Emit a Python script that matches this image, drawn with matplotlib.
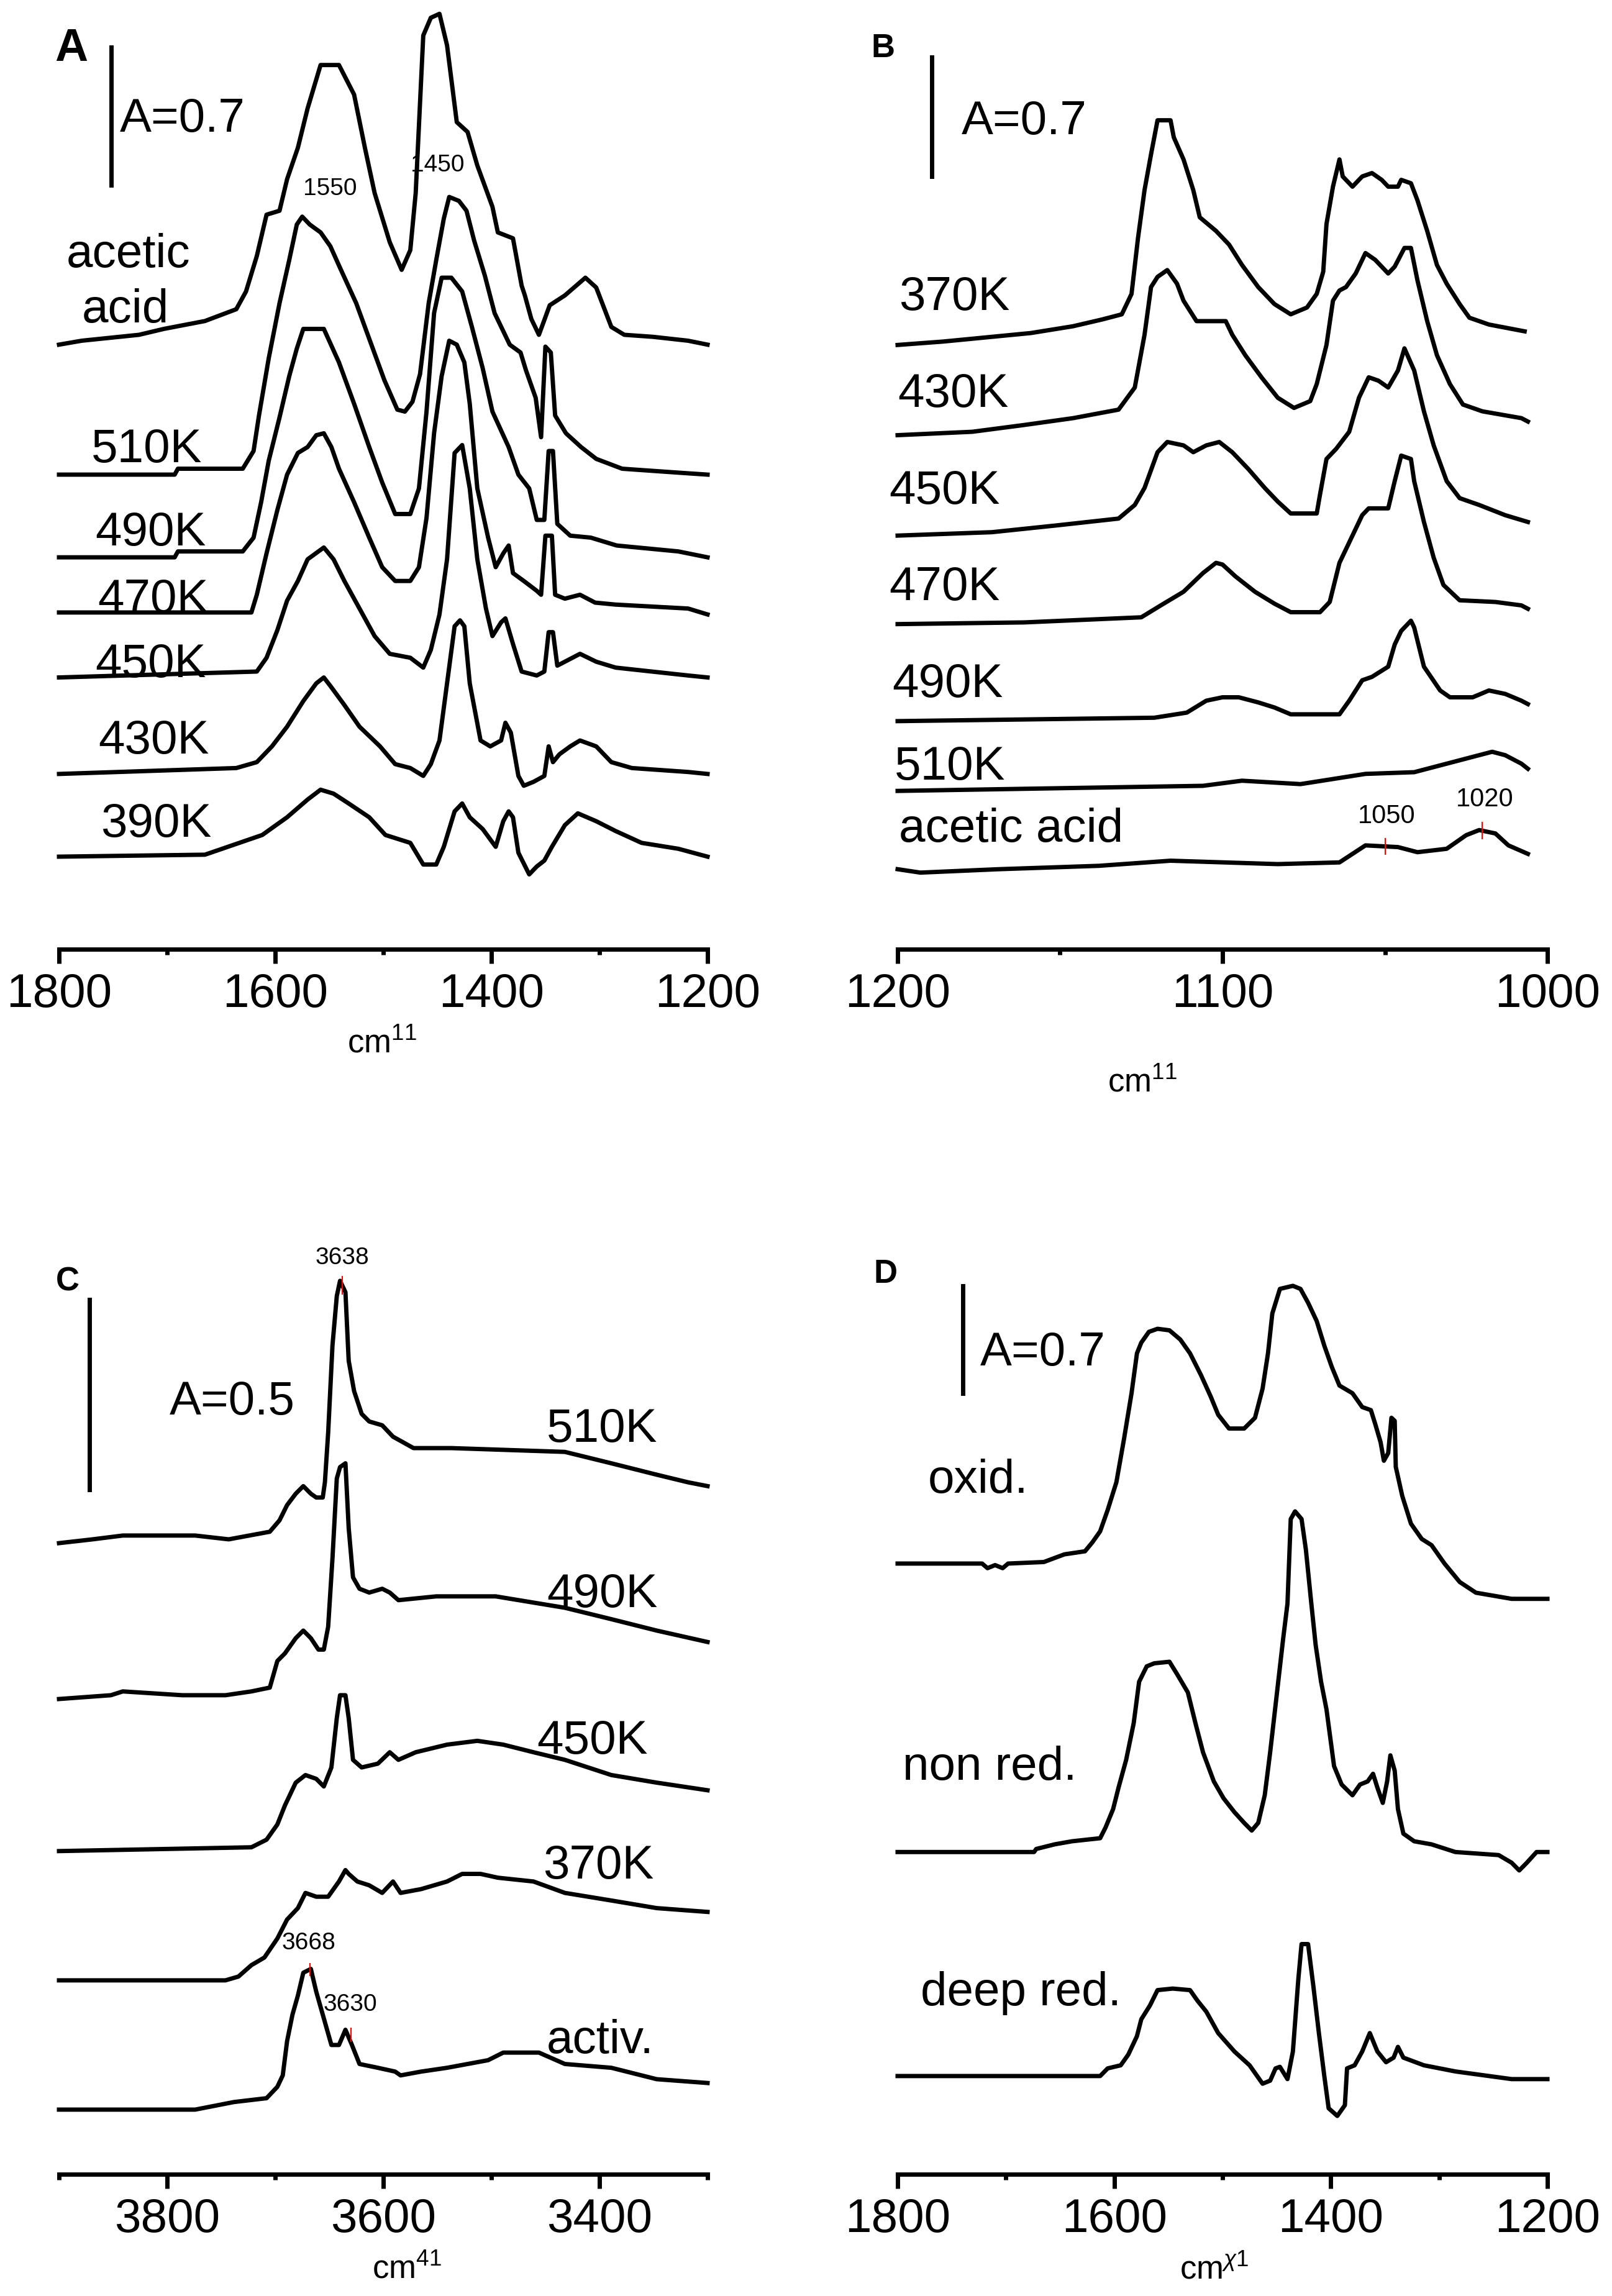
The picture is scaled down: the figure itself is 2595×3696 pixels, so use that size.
import numpy as np
import matplotlib

matplotlib.use("Agg")
import matplotlib.pyplot as plt

plt.rcParams["font.family"] = ["Liberation Sans", "DejaVu Sans"]
plt.rcParams["mathtext.fontset"] = "custom"
plt.rcParams["mathtext.rm"] = "Liberation Sans"
plt.rcParams["mathtext.it"] = "Liberation Sans:italic"

W, H = 2595, 3696

# ---- panel A: acetate region, 1800-1200 cm-1 ----
a_acetic_wn = [1800, 1779, 1726, 1703, 1665, 1636, 1627, 1617, 1608, 1596, 1589, 1579, 1570, 1558, 1541,
               1527, 1517, 1508, 1494, 1483, 1475, 1470, 1463, 1456, 1448, 1441, 1432, 1422, 1413, 1399,
               1394, 1380, 1372, 1369, 1363, 1356, 1346, 1332, 1313, 1303, 1289, 1277, 1251, 1218, 1200]
a_acetic_abs = [0.00, 0.02, 0.05, 0.08, 0.12, 0.18, 0.27, 0.45, 0.66, 0.68, 0.84, 1.00, 1.20, 1.42, 1.42,
                1.27, 1.00, 0.77, 0.52, 0.38, 0.48, 0.77, 1.57, 1.66, 1.68, 1.52, 1.13, 1.08, 0.91, 0.70,
                0.57, 0.54, 0.30, 0.25, 0.13, 0.05, 0.20, 0.25, 0.34, 0.29, 0.09, 0.05, 0.04, 0.02, 0.00]
a_510_wn = [1800, 1693, 1690, 1630, 1620, 1615, 1606, 1596, 1587, 1580, 1575, 1568, 1558, 1549, 1540,
            1525, 1511, 1499, 1487, 1480, 1473, 1466, 1458, 1451, 1444, 1439, 1430, 1423, 1416, 1406,
            1397, 1383, 1373, 1368, 1359, 1354, 1350, 1345, 1341, 1331, 1317, 1303, 1279, 1227, 1200]
a_510_abs = [0.00, 0.00, 0.03, 0.03, 0.12, 0.30, 0.59, 0.87, 1.09, 1.27, 1.31, 1.27, 1.23, 1.16, 1.05,
             0.87, 0.66, 0.48, 0.33, 0.32, 0.37, 0.51, 0.87, 1.09, 1.30, 1.41, 1.39, 1.34, 1.19, 1.01,
             0.82, 0.66, 0.62, 0.53, 0.39, 0.19, 0.65, 0.62, 0.30, 0.21, 0.14, 0.08, 0.03, 0.01, 0.00]
a_490_wn = [1800, 1693, 1690, 1630, 1620, 1613, 1606, 1596, 1587, 1580, 1574, 1555, 1541, 1527, 1513,
            1501, 1489, 1475, 1467, 1460, 1453, 1446, 1437, 1427, 1418, 1408, 1399, 1384, 1375, 1365,
            1358, 1351, 1347, 1343, 1339, 1327, 1308, 1284, 1227, 1200]
a_490_abs = [0.00, 0.00, 0.03, 0.03, 0.10, 0.28, 0.49, 0.71, 0.92, 1.06, 1.16, 1.16, 0.99, 0.78, 0.56,
             0.38, 0.22, 0.22, 0.35, 0.74, 1.24, 1.42, 1.42, 1.35, 1.17, 0.96, 0.74, 0.56, 0.42, 0.35,
             0.19, 0.19, 0.54, 0.54, 0.17, 0.11, 0.10, 0.06, 0.03, 0.00]
a_470_wn = [1800, 1622, 1617, 1608, 1598, 1589, 1579, 1570, 1562, 1555, 1548, 1541, 1527, 1513, 1501,
            1489, 1475, 1467, 1460, 1453, 1446, 1439, 1432, 1425, 1420, 1413, 1403, 1396, 1389, 1384,
            1380, 1370, 1358, 1354, 1350, 1344, 1341, 1332, 1318, 1304, 1285, 1218, 1200]
a_470_abs = [0.00, 0.00, 0.09, 0.30, 0.52, 0.70, 0.81, 0.84, 0.90, 0.91, 0.84, 0.73, 0.56, 0.38, 0.23,
             0.16, 0.16, 0.23, 0.48, 0.91, 1.20, 1.38, 1.36, 1.27, 1.06, 0.63, 0.38, 0.23, 0.30, 0.34,
             0.20, 0.16, 0.11, 0.09, 0.39, 0.39, 0.09, 0.07, 0.09, 0.05, 0.04, 0.02, -0.01]
a_450_wn = [1800, 1617, 1608, 1598, 1589, 1579, 1570, 1560, 1555, 1546, 1536, 1522, 1508, 1494, 1475,
            1463, 1456, 1448, 1441, 1434, 1427, 1420, 1413, 1405, 1399, 1391, 1387, 1380, 1372, 1358,
            1351, 1347, 1343, 1339, 1332, 1318, 1303, 1285, 1218, 1200]
a_450_abs = [0.00, 0.03, 0.10, 0.24, 0.39, 0.49, 0.60, 0.64, 0.66, 0.60, 0.49, 0.35, 0.21, 0.12, 0.10,
             0.05, 0.14, 0.32, 0.60, 1.14, 1.18, 0.96, 0.60, 0.35, 0.21, 0.28, 0.30, 0.17, 0.03, 0.01,
             0.03, 0.23, 0.23, 0.06, 0.08, 0.12, 0.08, 0.05, 0.01, 0.00]
a_430_wn = [1800, 1636, 1617, 1603, 1589, 1574, 1562, 1555, 1548, 1536, 1522, 1503, 1489, 1475, 1463,
            1456, 1448, 1441, 1434, 1429, 1425, 1420, 1410, 1401, 1391, 1387, 1382, 1375, 1370, 1361,
            1351, 1347, 1343, 1337, 1327, 1318, 1303, 1289, 1270, 1218, 1200]
a_430_abs = [0.00, 0.03, 0.06, 0.14, 0.24, 0.37, 0.46, 0.49, 0.44, 0.35, 0.24, 0.14, 0.05, 0.03, -0.01,
             0.05, 0.17, 0.46, 0.75, 0.78, 0.75, 0.46, 0.17, 0.14, 0.17, 0.26, 0.21, -0.01, -0.06, -0.04,
             -0.01, 0.14, 0.06, 0.10, 0.14, 0.17, 0.14, 0.06, 0.03, 0.01, 0.00]
a_390_wn = [1800, 1665, 1612, 1589, 1570, 1558, 1546, 1532, 1513, 1498, 1475, 1463, 1451, 1444, 1434,
            1427, 1420, 1408, 1396, 1389, 1384, 1380, 1375, 1365, 1358, 1351, 1344, 1332, 1320, 1303,
            1285, 1261, 1227, 1200]
a_390_abs = [0.00, 0.01, 0.11, 0.20, 0.29, 0.34, 0.32, 0.27, 0.20, 0.11, 0.07, -0.04, -0.04, 0.05, 0.23,
             0.27, 0.20, 0.14, 0.05, 0.18, 0.23, 0.20, 0.02, -0.09, -0.05, -0.02, 0.05, 0.16, 0.22, 0.18,
             0.13, 0.07, 0.04, 0.00]
a_offsets = [3.07, 2.41, 1.99, 1.71, 1.38, 0.89, 0.47]

# ---- panel B: 1200-1000 cm-1 ----
b_370_wn = [1200, 1186, 1159, 1146, 1137, 1131, 1128, 1126, 1124, 1122, 1120, 1116, 1115, 1112, 1109,
            1107, 1102, 1098, 1094, 1089, 1084, 1079, 1074, 1071, 1069, 1068, 1066, 1064, 1063, 1060,
            1057, 1054, 1051, 1049, 1046, 1045, 1042, 1040, 1037, 1034, 1031, 1027, 1024, 1018, 1007]
b_370_abs = [0.00, 0.02, 0.07, 0.11, 0.15, 0.18, 0.30, 0.63, 0.91, 1.12, 1.32, 1.32, 1.22, 1.09, 0.91,
             0.75, 0.67, 0.59, 0.47, 0.34, 0.24, 0.18, 0.22, 0.30, 0.43, 0.71, 0.93, 1.09, 0.99, 0.93,
             0.99, 1.01, 0.97, 0.93, 0.93, 0.97, 0.95, 0.85, 0.67, 0.47, 0.36, 0.24, 0.16, 0.12, 0.08]
b_430_wn = [1200, 1177, 1161, 1146, 1132, 1127, 1124, 1122, 1120, 1117, 1114, 1112, 1108, 1099, 1097,
            1093, 1088, 1083, 1078, 1073, 1071, 1068, 1066, 1064, 1062, 1059, 1056, 1053, 1049, 1047,
            1044, 1042, 1040, 1037, 1034, 1030, 1026, 1020, 1008, 1006]
b_430_abs = [0.00, 0.02, 0.06, 0.10, 0.15, 0.28, 0.59, 0.87, 0.93, 0.97, 0.89, 0.79, 0.67, 0.67, 0.59,
             0.47, 0.34, 0.22, 0.16, 0.20, 0.30, 0.53, 0.79, 0.85, 0.87, 0.95, 1.07, 1.03, 0.95, 0.99,
             1.10, 1.10, 0.91, 0.67, 0.47, 0.30, 0.18, 0.14, 0.10, 0.08]
b_450_wn = [1200, 1171, 1151, 1132, 1127, 1124, 1120, 1117, 1112, 1109, 1105, 1101, 1097, 1092, 1087,
            1083, 1079, 1071, 1070, 1068, 1065, 1061, 1058, 1055, 1052, 1049, 1046, 1044, 1041, 1038,
            1035, 1031, 1027, 1021, 1013, 1006]
b_450_abs = [0.00, 0.02, 0.06, 0.10, 0.18, 0.28, 0.49, 0.55, 0.53, 0.49, 0.53, 0.55, 0.49, 0.39, 0.28,
             0.20, 0.13, 0.13, 0.24, 0.45, 0.51, 0.61, 0.81, 0.93, 0.91, 0.87, 0.97, 1.10, 0.97, 0.73,
             0.53, 0.32, 0.22, 0.18, 0.12, 0.08]
b_470_wn = [1200, 1161, 1125, 1119, 1112, 1106, 1102, 1100, 1096, 1090, 1084, 1079, 1070, 1067, 1064,
            1060, 1057, 1055, 1049, 1047, 1045, 1042, 1041, 1038, 1035, 1032, 1027, 1016, 1008, 1006]
b_470_abs = [0.00, 0.01, 0.04, 0.11, 0.19, 0.30, 0.36, 0.35, 0.28, 0.19, 0.12, 0.07, 0.07, 0.13, 0.36,
             0.52, 0.64, 0.68, 0.68, 0.84, 0.99, 0.97, 0.84, 0.60, 0.39, 0.23, 0.14, 0.13, 0.11, 0.09]
b_490_wn = [1200, 1121, 1111, 1105, 1100, 1095, 1089, 1084, 1079, 1064, 1061, 1057, 1054, 1049, 1047,
            1045, 1042, 1041, 1038, 1033, 1030, 1023, 1018, 1013, 1008, 1006]
b_490_abs = [0.00, 0.02, 0.05, 0.12, 0.14, 0.14, 0.11, 0.08, 0.04, 0.04, 0.12, 0.24, 0.26, 0.32, 0.45,
             0.53, 0.59, 0.55, 0.32, 0.18, 0.14, 0.14, 0.18, 0.16, 0.12, 0.10]
b_510_wn = [1200, 1106, 1094, 1076, 1056, 1041, 1031, 1023, 1017, 1013, 1008, 1006]
b_510_abs = [0.00, 0.03, 0.06, 0.04, 0.10, 0.11, 0.16, 0.20, 0.23, 0.21, 0.16, 0.13]
b_acetic_wn = [1200, 1193, 1169, 1138, 1116, 1083, 1064, 1060, 1056, 1046, 1040, 1031, 1025, 1021, 1016,
               1012, 1006]
b_acetic_abs = [0.00, -0.02, 0.00, 0.02, 0.05, 0.03, 0.04, 0.09, 0.14, 0.13, 0.10, 0.12, 0.20, 0.23, 0.21,
                0.14, 0.09]
b_offsets = [3.55, 3.02, 2.43, 1.91, 1.34, 0.93, 0.47]

# ---- panel C: OH region, 3900-3300 cm-1 ----
c_510_wn = [3900, 3869, 3841, 3774, 3743, 3724, 3705, 3696, 3689, 3681, 3674, 3667, 3662, 3656, 3654,
            3651, 3647, 3643, 3640, 3635, 3632, 3627, 3620, 3613, 3601, 3591, 3572, 3537, 3432, 3389,
            3347, 3318, 3300]
c_510_abs = [0.00, 0.01, 0.02, 0.02, 0.01, 0.02, 0.03, 0.06, 0.10, 0.13, 0.15, 0.13, 0.12, 0.12, 0.16,
             0.29, 0.52, 0.65, 0.69, 0.66, 0.48, 0.40, 0.34, 0.32, 0.31, 0.28, 0.25, 0.25, 0.24, 0.21,
             0.18, 0.16, 0.15]
c_490_wn = [3900, 3852, 3841, 3786, 3746, 3722, 3705, 3698, 3691, 3681, 3674, 3667, 3660, 3655, 3651,
            3647, 3643, 3640, 3635, 3632, 3628, 3622, 3613, 3601, 3594, 3586, 3551, 3496, 3432, 3389,
            3347, 3300]
c_490_abs = [0.00, 0.01, 0.02, 0.01, 0.01, 0.02, 0.03, 0.10, 0.12, 0.16, 0.18, 0.16, 0.13, 0.13, 0.19,
             0.37, 0.58, 0.61, 0.62, 0.45, 0.32, 0.29, 0.28, 0.29, 0.28, 0.26, 0.27, 0.27, 0.24, 0.21,
             0.18, 0.15]
c_450_wn = [3900, 3722, 3708, 3698, 3691, 3681, 3672, 3662, 3655, 3648, 3643, 3640, 3635, 3632, 3628,
            3620, 3605, 3594, 3586, 3570, 3541, 3513, 3489, 3461, 3432, 3389, 3347, 3300]
c_450_abs = [0.00, 0.01, 0.03, 0.07, 0.12, 0.18, 0.20, 0.19, 0.17, 0.22, 0.35, 0.41, 0.41, 0.35, 0.24,
             0.22, 0.23, 0.26, 0.24, 0.26, 0.28, 0.29, 0.28, 0.26, 0.24, 0.20, 0.18, 0.16]
c_370_wn = [3900, 3746, 3734, 3722, 3710, 3698, 3689, 3679, 3672, 3662, 3651, 3641, 3635, 3632, 3624,
            3613, 3601, 3591, 3584, 3565, 3541, 3527, 3510, 3494, 3461, 3432, 3389, 3347, 3300]
c_370_abs = [0.00, 0.00, 0.01, 0.04, 0.06, 0.11, 0.16, 0.19, 0.23, 0.22, 0.22, 0.26, 0.29, 0.28, 0.26,
             0.25, 0.23, 0.26, 0.23, 0.24, 0.26, 0.28, 0.28, 0.27, 0.26, 0.23, 0.21, 0.19, 0.18]
c_activ_wn = [3900, 3774, 3738, 3708, 3698, 3693, 3689, 3684, 3679, 3674, 3667, 3662, 3655, 3648, 3641,
              3635, 3629, 3622, 3605, 3589, 3584, 3565, 3541, 3503, 3489, 3456, 3432, 3389, 3347, 3300]
c_activ_abs = [0.00, 0.00, 0.02, 0.03, 0.06, 0.09, 0.18, 0.25, 0.30, 0.36, 0.37, 0.31, 0.24, 0.17, 0.17,
               0.21, 0.17, 0.12, 0.11, 0.10, 0.09, 0.10, 0.11, 0.13, 0.15, 0.15, 0.12, 0.11, 0.08, 0.07]
c_offsets = [1.66, 1.25, 0.85, 0.51, 0.17]

# ---- panel D: pretreatment, 1800-1200 cm-1 ----
d_oxid_wn = [1800, 1722, 1717, 1710, 1703, 1698, 1665, 1646, 1627, 1620, 1613, 1606, 1598, 1591, 1584,
             1579, 1575, 1568, 1560, 1549, 1539, 1530, 1520, 1511, 1504, 1494, 1480, 1470, 1463, 1458,
             1454, 1447, 1435, 1428, 1421, 1413, 1406, 1399, 1392, 1380, 1371, 1363, 1359, 1354, 1351,
             1347, 1344, 1341, 1340, 1334, 1326, 1316, 1307, 1295, 1281, 1266, 1233, 1200]
d_oxid_abs = [0.00, 0.00, -0.03, -0.01, -0.03, 0.00, 0.01, 0.06, 0.08, 0.14, 0.21, 0.35, 0.53, 0.81, 1.11,
              1.37, 1.44, 1.51, 1.53, 1.52, 1.46, 1.37, 1.23, 1.09, 0.97, 0.88, 0.88, 0.95, 1.14, 1.37,
              1.63, 1.79, 1.81, 1.79, 1.70, 1.58, 1.42, 1.28, 1.16, 1.11, 1.02, 1.00, 0.91, 0.79, 0.67,
              0.72, 0.95, 0.93, 0.63, 0.44, 0.26, 0.16, 0.12, 0.00, -0.12, -0.19, -0.23, -0.23]
d_nonred_wn = [1800, 1674, 1672, 1655, 1639, 1613, 1608, 1601, 1596, 1589, 1582, 1577, 1570, 1563, 1549,
               1542, 1532, 1525, 1518, 1508, 1499, 1489, 1480, 1473, 1467, 1461, 1456, 1450, 1444, 1440,
               1437, 1433, 1427, 1423, 1418, 1414, 1409, 1404, 1397, 1390, 1380, 1373, 1366, 1361, 1357,
               1352, 1348, 1345, 1341, 1338, 1333, 1323, 1307, 1285, 1245, 1233, 1226, 1219, 1210, 1200]
d_nonred_abs = [0.00, 0.00, 0.02, 0.05, 0.07, 0.09, 0.16, 0.28, 0.42, 0.60, 0.84, 1.11, 1.21, 1.23, 1.24,
                1.16, 1.04, 0.84, 0.65, 0.46, 0.35, 0.26, 0.19, 0.14, 0.19, 0.37, 0.65, 1.02, 1.39, 1.62,
                2.17, 2.22, 2.17, 1.97, 1.62, 1.35, 1.11, 0.93, 0.56, 0.44, 0.37, 0.44, 0.46, 0.51, 0.42,
                0.32, 0.46, 0.63, 0.53, 0.28, 0.12, 0.07, 0.05, 0.00, -0.02, -0.07, -0.12, -0.07, 0.00, 0.00]
d_deepred_wn = [1800, 1613, 1606, 1594, 1587, 1579, 1575, 1567, 1560, 1546, 1530, 1523, 1515, 1504, 1489,
                1475, 1463, 1456, 1451, 1447, 1440, 1435, 1430, 1427, 1421, 1416, 1411, 1406, 1402, 1394,
                1387, 1385, 1378, 1371, 1364, 1357, 1349, 1342, 1338, 1333, 1314, 1285, 1233, 1200]
d_deepred_abs = [0.00, 0.00, 0.05, 0.07, 0.14, 0.26, 0.37, 0.46, 0.56, 0.57, 0.56, 0.49, 0.42, 0.28, 0.16,
                 0.07, -0.05, -0.03, 0.05, 0.06, -0.02, 0.16, 0.63, 0.86, 0.86, 0.58, 0.28, 0.00, -0.21, -0.26,
                 -0.19, 0.05, 0.07, 0.16, 0.28, 0.16, 0.09, 0.12, 0.19, 0.12, 0.07, 0.03, -0.02, -0.02]
d_offsets = [3.98, 2.10, 0.64]


def put(fig, text, x, y, size, **kw):
    # x, y in pixels from the top-left corner of the image
    fig.text(x / W, 1 - y / H, text, fontsize=size, **kw)


def make_axes(fig, x0, x1, y_axis, top, xlim, px_per_abs, majors, minors):
    ax = fig.add_axes([x0 / W, 1 - y_axis / H, (x1 - x0) / W, (y_axis - top) / H])
    ax.set_xlim(*xlim)
    ax.set_ylim(0, (y_axis - top) / px_per_abs)
    for side in ["left", "right", "top"]:
        ax.spines[side].set_visible(False)
    ax.spines["bottom"].set_linewidth(5)
    ax.set_yticks([])
    ax.set_xticks(majors)
    ax.set_xticks(minors, minor=True)
    ax.tick_params(axis="x", which="major", length=16.5, width=5, direction="out",
                   labelsize=55, pad=11)
    ax.tick_params(axis="x", which="minor", length=6.5, width=5, direction="out")
    ax.patch.set_visible(False)
    return ax


def draw_curves(ax, curves, offsets):
    for (wn, ab), off in zip(curves, offsets):
        ax.plot(wn, np.array(ab) + off, color="black", lw=5, clip_on=False)


def red_mark(ax, wn_list, ab_list, off, at, half, shift=0.0):
    y = np.interp(at, wn_list[::-1], ab_list[::-1]) + off + shift
    ax.plot([at, at], [y - half, y + half], color="red", lw=1.5, clip_on=False)


def main():
    fig = plt.figure(figsize=(W / 100, H / 100), dpi=100)

    # panel A
    ax_a = make_axes(fig, 95, 1139, 1528, 0, (1800, 1200), 317,
                     [1800, 1600, 1400, 1200], [1700, 1500, 1300])
    draw_curves(ax_a, [(a_acetic_wn, a_acetic_abs), (a_510_wn, a_510_abs), (a_490_wn, a_490_abs),
                       (a_470_wn, a_470_abs), (a_450_wn, a_450_abs), (a_430_wn, a_430_abs),
                       (a_390_wn, a_390_abs)], a_offsets)
    ax_a.plot([1752, 1752], [3.88, 3.88 + 0.7], color="black", lw=5, clip_on=False)
    put(fig, "A", 88, 98, 53, fontweight="bold", va="baseline")
    put(fig, "A=0.7", 193, 212, 55, va="baseline")
    put(fig, "1550", 531, 314, 28, ha="center", va="baseline")
    put(fig, "1450", 704, 276, 28, ha="center", va="baseline")
    put(fig, "acetic", 207, 430, 55, ha="center", va="baseline")
    put(fig, "acid", 202, 519, 55, ha="center", va="baseline")
    for lab, x, y in [("510K", 147, 744), ("490K", 153, 878), ("470K", 157, 986),
                      ("450K", 153, 1090), ("430K", 158, 1213), ("390K", 162, 1347)]:
        put(fig, lab, x, y, 55, va="baseline")
    put(fig, "cm$^{11}$", 615, 1680, 38, ha="center", va="center")

    # panel B
    ax_b = make_axes(fig, 1445, 2491, 1528, 0, (1200, 1000), 274,
                     [1200, 1100, 1000], [1150, 1050])
    draw_curves(ax_b, [(b_370_wn, b_370_abs), (b_430_wn, b_430_abs), (b_450_wn, b_450_abs),
                       (b_470_wn, b_470_abs), (b_490_wn, b_490_abs), (b_510_wn, b_510_abs),
                       (b_acetic_wn, b_acetic_abs)], b_offsets)
    ax_b.plot([1189.5, 1189.5], [4.54, 4.54 + 0.7], color="black", lw=5, clip_on=False)
    red_mark(ax_b, b_acetic_wn, b_acetic_abs, b_offsets[-1], 1050, 0.046)
    red_mark(ax_b, b_acetic_wn, b_acetic_abs, b_offsets[-1], 1020, 0.047)
    put(fig, "B", 1403, 92, 38, fontweight="bold", va="baseline")
    put(fig, "A=0.7", 1548, 216, 55, va="baseline")
    put(fig, "1050", 2232, 1325, 30, ha="center", va="baseline")
    put(fig, "1020", 2390, 1298, 30, ha="center", va="baseline")
    for lab, x, y in [("370K", 1447, 499), ("430K", 1445, 655), ("450K", 1431, 811),
                      ("470K", 1431, 966), ("490K", 1436, 1122), ("510K", 1440, 1255),
                      ("acetic acid", 1447, 1355)]:
        put(fig, lab, x, y, 55, va="baseline")
    put(fig, "cm$^{11}$", 1839, 1743, 38, ha="center", va="center")

    # panel C
    ax_c = make_axes(fig, 95, 1139, 3500, 1900, (3900, 3300), 612,
                     [3800, 3600, 3400], [3900, 3700, 3500, 3300])
    draw_curves(ax_c, [(c_510_wn, c_510_abs), (c_490_wn, c_490_abs), (c_450_wn, c_450_abs),
                       (c_370_wn, c_370_abs), (c_activ_wn, c_activ_abs)], c_offsets)
    ax_c.plot([3872, 3872], [1.80, 1.80 + 0.5], color="black", lw=5, clip_on=False)
    red_mark(ax_c, c_510_wn, c_510_abs, c_offsets[0], 3638, 0.023)
    red_mark(ax_c, c_activ_wn, c_activ_abs, c_offsets[-1], 3668, 0.015)
    red_mark(ax_c, c_activ_wn, c_activ_abs, c_offsets[-1], 3630, 0.017, shift=0.02)
    put(fig, "C", 90, 2078, 38, fontweight="bold", va="baseline")
    put(fig, "A=0.5", 273, 2277, 55, va="baseline")
    put(fig, "3638", 551, 2035, 28, ha="center", va="baseline")
    put(fig, "3668", 497, 3138, 28, ha="center", va="baseline")
    put(fig, "3630", 564, 3237, 28, ha="center", va="baseline")
    for lab, x, y in [("510K", 880, 2321), ("490K", 880, 2587), ("450K", 864, 2823),
                      ("370K", 874, 3024), ("activ.", 880, 3305)]:
        put(fig, lab, x, y, 55, va="baseline")
    put(fig, "cm$^{41}$", 655, 3653, 38, ha="center", va="center")

    # panel D
    ax_d = make_axes(fig, 1445, 2491, 3500, 1900, (1800, 1200), 247,
                     [1800, 1600, 1400, 1200], [1700, 1500, 1300])
    draw_curves(ax_d, [(d_oxid_wn, d_oxid_abs), (d_nonred_wn, d_nonred_abs),
                       (d_deepred_wn, d_deepred_abs)], d_offsets)
    ax_d.plot([1740, 1740], [5.09, 5.09 + 0.7], color="black", lw=5, clip_on=False)
    put(fig, "D", 1406, 2065, 38, fontweight="bold", va="baseline")
    put(fig, "A=0.7", 1578, 2198, 55, va="baseline")
    for lab, x, y in [("oxid.", 1494, 2403), ("non red.", 1453, 2865), ("deep red.", 1482, 3228)]:
        put(fig, lab, x, y, 55, va="baseline")
    put(fig, r"cm$^{\chi1}$", 1955, 3654, 38, ha="center", va="center")

    fig.savefig("out.png", dpi=100, facecolor="white")


if __name__ == "__main__":
    main()
